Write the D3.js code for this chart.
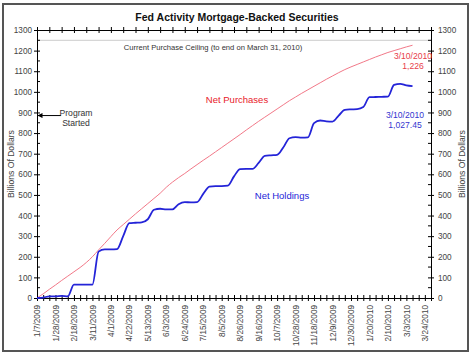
<!DOCTYPE html>
<html><head><meta charset="utf-8">
<script src="https://cdn.jsdelivr.net/npm/d3@7"></script>
<style>
body{margin:0;background:#fff;}
svg{display:block;font-family:Arial,"Liberation Sans",sans-serif;}
</style></head>
<body><svg id="c" width="474" height="357"></svg>
<script>
const weeks = ["1/7/2009","1/14/2009","1/21/2009","1/28/2009","2/4/2009","2/11/2009","2/18/2009","2/25/2009",
"3/4/2009","3/11/2009","3/18/2009","3/25/2009","4/1/2009","4/8/2009","4/15/2009","4/22/2009","4/29/2009",
"5/6/2009","5/13/2009","5/20/2009","5/27/2009","6/3/2009","6/10/2009","6/17/2009","6/24/2009",
"7/1/2009","7/8/2009","7/15/2009","7/22/2009","7/29/2009","8/5/2009","8/12/2009","8/19/2009","8/26/2009",
"9/2/2009","9/9/2009","9/16/2009","9/23/2009","9/30/2009","10/7/2009","10/14/2009","10/21/2009","10/28/2009",
"11/4/2009","11/11/2009","11/18/2009","11/25/2009","12/2/2009","12/9/2009","12/16/2009","12/23/2009","12/30/2009",
"1/6/2010","1/13/2010","1/20/2010","1/27/2010","2/3/2010","2/10/2010","2/17/2010","2/24/2010","3/3/2010","3/10/2010"];
const netPurchases = [0,20,42,63,85,106,127,148,172,200,233,265,298,330,356,382,408,433,458,483,508,537,562,584,604,626,
647,668,688,709,730,751,772,793,815,836,857,877,897,917,937,957,975,993,1010,1027,1044,1061,1077,1093,1108,1121,
1133,1145,1157,1169,1180,1191,1200,1209,1218,1226];
const netHoldings = [0,2,8,8,10,8,65,65,65,65,225,236,236,237,300,363,365,367,382,428,433,430,430,455,465,464,465,
505,540,543,543,545,590,625,626,626,655,689,692,694,730,775,780,778,779,848,861,857,856,885,913,915,916,926,974,
975,976,977,1034,1039,1031,1027.45];
const xTickLabels = ["1/7/2009","1/28/2009","2/18/2009","3/11/2009","4/1/2009","4/22/2009","5/13/2009","6/3/2009",
"6/24/2009","7/15/2009","8/5/2009","8/26/2009","9/16/2009","10/7/2009","10/28/2009","11/18/2009","12/9/2009",
"12/30/2009","1/20/2010","2/10/2010","3/3/2010","3/24/2010"];
const yTicks = [0,100,200,300,400,500,600,700,800,900,1000,1100,1200,1300];
const ceilingValue = 1250;
const programStartValue = 885;

const parse = d3.timeParse("%m/%d/%Y");
const fmt = d => (d.getMonth()+1)+"/"+d.getDate()+"/"+d.getFullYear();
const svg = d3.select("#c");
const L=37, R=431, T=30, B=298;
const x = d3.scaleTime().domain([parse("1/7/2009"), parse("3/31/2010")]).range([L,R]);
const y = d3.scaleLinear().domain([0,1300]).range([B,T]);

// frame
svg.append("rect").attr("x",3).attr("y",4).attr("width",465).attr("height",347)
  .attr("fill","#fff").attr("stroke","#555").attr("stroke-width",2);

// title
svg.append("text").attr("x",237).attr("y",21).attr("text-anchor","middle")
  .attr("font-size",10.5).attr("font-weight","bold").attr("fill","#111")
  .text("Fed Activity Mortgage-Backed Securities");

// ceiling line
svg.append("line").attr("x1",L+1).attr("x2",R-3).attr("y1",y(ceilingValue)).attr("y2",y(ceilingValue))
  .attr("stroke","#ccc").attr("stroke-width",1);
svg.append("text").attr("x",213).attr("y",50).attr("text-anchor","middle").attr("font-size",7.6)
  .attr("fill","#333").text("Current Purchase Ceiling (to end on March 31, 2010)");

// weekly tick values
const allWeeks = weeks.map(parse);
const extraWeeks = ["3/17/2010","3/24/2010","3/31/2010"].map(parse);
const tickWeeks = allWeeks.concat(extraWeeks);
const labelSet = new Set(xTickLabels);

// bottom axis
const xAxis = d3.axisBottom(x).tickValues(tickWeeks).tickSize(3)
  .tickFormat(d => labelSet.has(fmt(d)) ? fmt(d) : "");
const gx = svg.append("g").attr("transform",`translate(0,${B})`).call(xAxis);
gx.select(".domain").attr("stroke","#000");
gx.selectAll(".tick line").attr("y1",-3).attr("y2",3).attr("stroke","#000");
gx.selectAll(".tick text").attr("transform","rotate(-90)").attr("text-anchor","end")
  .attr("x",-7).attr("y",0).attr("dy","0.32em").attr("font-size",8.2).attr("fill","#444");

// top axis-like line with ticks every 2 weeks
const topTicks = tickWeeks.filter((d,i)=>i%2===0);
const xTop = d3.axisTop(x).tickValues(topTicks).tickSize(3).tickFormat("");
const gt = svg.append("g").attr("transform",`translate(0,${T})`).call(xTop);
gt.select(".domain").attr("stroke","#000");
gt.selectAll(".tick line").attr("y1",-3).attr("y2",3).attr("stroke","#000");

// left axis
const minor = d3.range(50,1300,100);
const yl = svg.append("g").attr("transform",`translate(${L},0)`)
  .call(d3.axisLeft(y).tickValues(yTicks).tickSize(3).tickFormat(d3.format("d")));
yl.select(".domain").attr("stroke","#000");
yl.selectAll(".tick line").attr("x1",-3).attr("x2",3).attr("stroke","#000");
yl.selectAll(".tick text").attr("font-size",8.2).attr("fill","#444").attr("x",-5);
yl.selectAll(".minor").data(minor).enter().append("line").attr("class","minor")
  .attr("x1",0).attr("x2",3).attr("y1",d=>y(d)).attr("y2",d=>y(d)).attr("stroke","#000");

// right axis
const yr = svg.append("g").attr("transform",`translate(${R},0)`)
  .call(d3.axisRight(y).tickValues(yTicks).tickSize(3).tickFormat(d3.format("d")));
yr.select(".domain").attr("stroke","#000");
yr.selectAll(".tick line").attr("x1",-3).attr("x2",3).attr("stroke","#000");
yr.selectAll(".tick text").attr("font-size",8.2).attr("fill","#444").attr("x",7);
yr.selectAll(".minor").data(minor).enter().append("line").attr("class","minor")
  .attr("x1",-3).attr("x2",0).attr("y1",d=>y(d)).attr("y2",d=>y(d)).attr("stroke","#000");

// axis titles
svg.append("text").attr("transform","translate(14,164) rotate(-90)").attr("text-anchor","middle")
  .attr("font-size",8.6).attr("fill","#444").text("Billions Of Dollars");
svg.append("text").attr("transform","translate(465,164) rotate(-90)").attr("text-anchor","middle")
  .attr("font-size",8.6).attr("fill","#444").text("Billions Of Dollars");

// lines
const line = d3.line().x((d,i)=>x(allWeeks[i])).y(d=>y(d)).curve(d3.curveMonotoneX);
svg.append("path").datum(netPurchases).attr("d",line).attr("fill","none")
  .attr("stroke","#f27888").attr("stroke-width",1);
svg.append("path").datum(netHoldings).attr("d",line).attr("fill","none")
  .attr("stroke","#2424d8").attr("stroke-width",1.8);

// annotations
svg.append("text").attr("x",237).attr("y",103).attr("text-anchor","middle").attr("font-size",9.5)
  .attr("fill","#e8202a").text("Net Purchases");
svg.append("text").attr("x",282).attr("y",199).attr("text-anchor","middle").attr("font-size",9.5)
  .attr("fill","#2424d8").text("Net Holdings");
const last = allWeeks.length-1;
svg.append("text").attr("x",413).attr("y",59).attr("text-anchor","middle").attr("font-size",8.6)
  .attr("fill","#e8404a").text(fmt(allWeeks[last]));
svg.append("text").attr("x",413).attr("y",69).attr("text-anchor","middle").attr("font-size",8.6)
  .attr("fill","#e8404a").text(d3.format(",")(netPurchases[last]));
svg.append("text").attr("x",405).attr("y",118).attr("text-anchor","middle").attr("font-size",8.6)
  .attr("fill","#3535d0").text(fmt(allWeeks[last]));
svg.append("text").attr("x",405).attr("y",128).attr("text-anchor","middle").attr("font-size",8.6)
  .attr("fill","#3535d0").text(d3.format(",.2f")(netHoldings[last]));

// program started arrow
const ay = y(programStartValue);
svg.append("defs").append("marker").attr("id","ah").attr("viewBox","0 0 10 10").attr("refX",9).attr("refY",5)
  .attr("markerWidth",5).attr("markerHeight",5).attr("orient","auto")
  .append("path").attr("d","M0,0L10,5L0,10z").attr("fill","#000");
svg.append("line").attr("x1",61).attr("x2",38).attr("y1",ay).attr("y2",ay)
  .attr("stroke","#000").attr("stroke-width",1).attr("marker-end","url(#ah)");
svg.append("text").attr("x",76).attr("y",116).attr("text-anchor","middle").attr("font-size",8.6)
  .attr("fill","#333").text("Program");
svg.append("text").attr("x",76).attr("y",126).attr("text-anchor","middle").attr("font-size",8.6)
  .attr("fill","#333").text("Started");
</script></body></html>
